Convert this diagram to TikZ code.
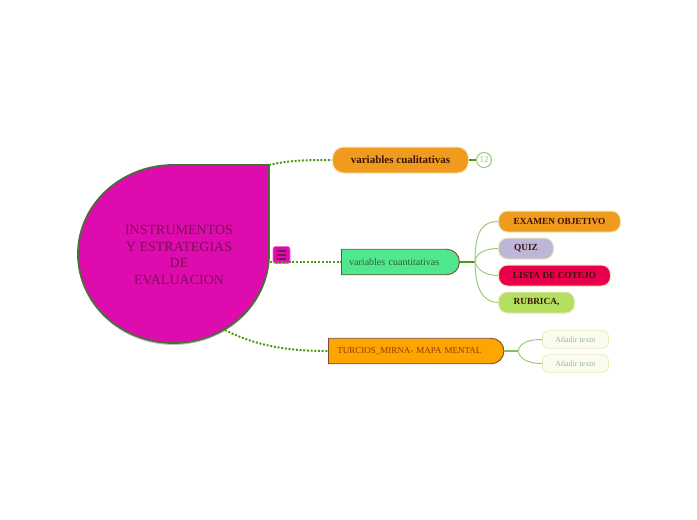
\documentclass[tikz,border=0pt]{standalone}
\usepackage{fontspec}
\setmainfont{Liberation Serif}
\usetikzlibrary{positioning,shapes.misc,shadows}

\definecolor{rootfill}{HTML}{DE0BAE}
\definecolor{rootline}{HTML}{4F6B3A}
\definecolor{roottext}{HTML}{7D0F58}
\definecolor{linkgreen}{HTML}{4E9A18}
\definecolor{branchgreen}{HTML}{9CCB7C}
\definecolor{amber}{HTML}{F09A1E}
\definecolor{mint}{HTML}{4FE88F}
\definecolor{brightorange}{HTML}{FFA500}
\definecolor{lilac}{HTML}{BDB6D8}
\definecolor{crimson}{HTML}{E8004C}
\definecolor{lime}{HTML}{B3E060}
\definecolor{palefill}{HTML}{F8FDF0}
\definecolor{paleline}{HTML}{EBE8BC}
\definecolor{paletext}{HTML}{A3B396}
\definecolor{boldtext}{HTML}{3A1508}
\definecolor{mapatext}{HTML}{8A3A10}
\definecolor{cuantitext}{HTML}{2F5F35}
\definecolor{tabline}{HTML}{7A4A3A}

\begin{document}
\begin{tikzpicture}[x=1pt,y=-1pt,font=\fontsize{10pt}{12pt}\selectfont]
	\tikzstyle{RootStyle}   = [fill=rootfill,draw=rootline,line width=1.8pt,drop shadow={shadow xshift=0pt,shadow yshift=-2pt,opacity=.25,fill=black}]
	\tikzstyle{LinkStyle}   = [linkgreen,line width=2pt,dash pattern=on 2pt off 1.7pt]
	\tikzstyle{StemStyle}   = [linkgreen,line width=1.6pt]
	\tikzstyle{BranchStyle} = [branchgreen,line width=1pt]
	\tikzstyle{BoldBox}     = [rounded corners=9pt,draw=paleline,line width=1pt,anchor=west,minimum height=21pt,inner xsep=0pt,font=\fontsize{9.3pt}{11pt}\selectfont\bfseries,text=boldtext]
	\tikzstyle{TabBox}      = [rounded rectangle,rounded rectangle west arc=none,draw=tabline,line width=.9pt,anchor=west,minimum height=25.5pt,inner xsep=0pt]
	\tikzstyle{PaleBox}     = [rounded corners=6pt,fill=palefill,draw=paleline,line width=.8pt,anchor=west,minimum width=66pt,minimum height=17.5pt,inner sep=0pt,text=paletext,font=\fontsize{8pt}{10pt}\selectfont]

	\useasboundingbox (0,0) rectangle (697,520);

	% central topic
	\path[RootStyle] (173.5,165) -- (269,165) -- (269,254) arc[start angle=0,end angle=270,x radius=95.5,y radius=89] -- cycle;
	\node[align=center,text=roottext,font=\fontsize{14pt}{16.4pt}\selectfont] (Root) at (179,255) {INSTRUMENTOS\\Y ESTRATEGIAS\\DE\\EVALUACION};
	\coordinate (RootTop) at (269,165);
	\coordinate (RootMid) at (270,262);
	\coordinate (RootLow) at (225,330);

	% main branches
	\node[BoldBox,fill=amber,minimum width=136pt,minimum height=26pt,rounded corners=11pt,font=\fontsize{11pt}{13pt}\selectfont\bfseries] (Cuali) at (332,160) {variables cualitativas};
	\node[TabBox,fill=mint,text=cuantitext,text width=110pt,align=left,minimum width=118pt] (Cuanti) at (341,262) {\hspace{4pt}variables cuantitativas};
	\node[TabBox,fill=brightorange,text=mapatext,text width=175pt,align=left,font=\fontsize{9pt}{11pt}\selectfont] (Mapa) at (328,351) {\hspace{9pt}TURCIOS\_MIRNA- MAPA MENTAL};
	\node[circle,draw=branchgreen,line width=1pt,fill=white,text=branchgreen,minimum size=15pt,inner sep=0pt,font=\fontsize{9pt}{11pt}\selectfont] (Count) at (484,160) {12};
	\node[rounded corners=2.5pt,fill=rootfill,draw=rootfill!60!white,line width=.6pt,minimum size=17pt,inner sep=0pt] (Menu) at (281.5,255) {};
	\draw[roottext,line width=1.2pt] ([xshift=-4.5pt,yshift=4pt]Menu.center) -- ([xshift=4.5pt,yshift=4pt]Menu.center) ([xshift=-4.5pt]Menu.center) -- ([xshift=4.5pt]Menu.center) ([xshift=-4.5pt,yshift=-4pt]Menu.center) -- ([xshift=4.5pt,yshift=-4pt]Menu.center);

	\draw[LinkStyle] (RootTop) .. controls (290,160) and (310,160) .. (Cuali.west);
	\draw[LinkStyle] (RootMid) -- (Cuanti.west);
	\draw[LinkStyle] (RootLow) .. controls (260,348) and (295,351) .. (Mapa.west);
	\draw[StemStyle] (Cuali.east) -- (Count.west);

	% children of variables cuantitativas
	\node[BoldBox,fill=amber,minimum width=122pt] (Examen) at (498,221.5) {EXAMEN OBJETIVO};
	\node[BoldBox,fill=lilac,minimum width=55pt,below right=5pt and 0pt of Examen.south west] (Quiz) {QUIZ};
	\node[BoldBox,fill=crimson,minimum width=112pt,below right=5pt and 0pt of Quiz.south west] (Lista) {LISTA DE COTEJO};
	\node[BoldBox,fill=lime,minimum width=76pt,below right=5pt and 0pt of Lista.south west] (Rubrica) {RUBRICA,};
	\coordinate (CuantiFork) at (475,262);
	\draw[StemStyle] (Cuanti.east) -- (CuantiFork);
	\draw[BranchStyle] (CuantiFork) .. controls (475,230) and (483,221.5) .. (Examen.west);
	\draw[BranchStyle] (CuantiFork) .. controls (475,254) and (484,248.5) .. (Quiz.west);
	\draw[BranchStyle] (CuantiFork) .. controls (477,270) and (486,275.5) .. (Lista.west);
	\draw[BranchStyle] (CuantiFork) .. controls (475,290) and (484,302.5) .. (Rubrica.west);

	% children of the orange topic
	\node[PaleBox] (TextoA) at (542,339.5) {Añadir texto};
	\node[PaleBox,below right=5.7pt and 0pt of TextoA.south west] (TextoB) {Añadir texto};
	\coordinate (MapaFork) at (518,351);
	\draw[StemStyle,branchgreen!70!linkgreen] (Mapa.east) -- (MapaFork);
	\draw[BranchStyle] (MapaFork) .. controls (520,342) and (530,339.5) .. (TextoA.west);
	\draw[BranchStyle] (MapaFork) .. controls (520,360) and (530,363.5) .. (TextoB.west);
\end{tikzpicture}
\end{document}
